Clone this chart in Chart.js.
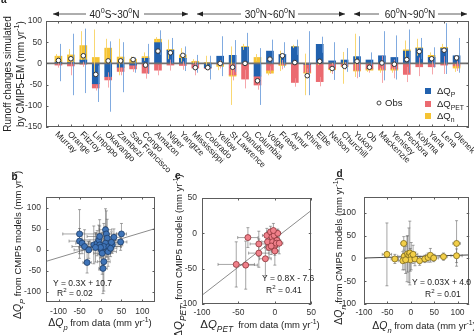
<!DOCTYPE html>
<html>
<head>
<meta charset="utf-8">
<script src="https://cdn.jsdelivr.net/npm/chart.js@4.4.1/dist/chart.umd.min.js"></script>
<style>
  html, body { margin: 0; padding: 0; background: #fff; }
  #fig { position: relative; width: 474px; height: 335px; overflow: hidden; }
  #fig canvas { position: absolute; }
</style>
</head>
<body>
<div id="fig">
  <canvas id="pa" width="474" height="175" style="left:0;top:0"></canvas>
  <canvas id="pb" width="160" height="170" style="left:0;top:165px"></canvas>
  <canvas id="pc" width="160" height="170" style="left:160px;top:165px"></canvas>
  <canvas id="pd" width="154" height="170" style="left:320px;top:165px"></canvas>
</div>
<script>
// ---- panel a: runoff change components per basin (mm/yr) ----
const rivers = ['Murray','Orange','Fitzroy','Limpopo','Okavango','Zambezi','Sao Francisco','Congo','Amazon','Niger','Yangtze',
  'Mississippi','Colorado','Yellow','St Lawrence','Danube','Columbia','Volga','Fraser','Amur','Rhine','Elbe','Nelson','Churchill',
  'Yukon','Ob','Mackenzie','Yenisey','Pechora','Kolyma','Yana','Lena','Olenek'];
const dQp   = [3, 2, 8, -48, -31, -9, -4, 12, 49, 31, 12, -1, -10, 17, 19, 38, -30, 29, 21, 39, -2, 45, 6, 8, 16, 8, 18, 14, 29, 35, 14, 35, 18];
const dQpet = [-4, -6, -2, -10, -8, -10, -9, -23, -16, -4, -5, -10, -2, -2, -27, -37, -21, -16, -3, -45, -19, -43, -12, -6, -16, -13, -14, -13, -26, -8, -8, -4, -6];
const dQn   = [14, 18, 34, 14, 36, 15, 10, 4, 8, 2, 8, 5, 2, -5, -3, 2, 14, -7, -2, 1, -2, 0, -3, -2, -2, -3, -2, -3, 3, 2, 5, 3, -5];
const dQobs = [7, 11, 18, -26, 6, 6, 9, -4, 29, 25, 19, -10, -10, 0, -9, 0, -41, 10, 18, 2, -29, 5, -12, -7, 5, -9, 1, -2, 9, 28, 11, 31, 13];
// spread of the model ensemble for each component (lower / upper ends)
const pLo   = [-42, -75, -70, -91, -114, -68, -22, -25, 20, 0, -18, -22, -38, -30, -20, 5, -98, 0, -10, 20, -75, 25, -39, -20, -32, -12, -40, -38, -22, 10, -10, -25, -22];
const pHi   = [46, 70, 82, -5, 52, 50, 14, 46, 78, 60, 40, 20, 18, 64, 55, 72, 36, 56, 50, 56, 76, 63, 50, 36, 64, 26, 76, 66, 80, 60, 38, 95, 60];
const petLo = [-10, -28, -8, -64, -57, -28, -20, -36, -28, -17, -15, -28, -16, -12, -40, -59, -62, -25, -14, -55, -30, -54, -25, -15, -35, -22, -46, -35, -44, -30, -26, -25, -18];
const petHi = [2, 16, 4, -52, -21, -10, -6, -10, -4, 9, 5, 6, -8, 8, -14, -15, -40, -7, 8, -35, -12, -32, 1, 3, 3, -4, 18, 9, -8, 14, 10, 17, 6];
const nLo   = [8, 4, 8, -20, 12, -28, 4, 6, 52, 10, 4, 0, -14, -16, -98, 32, 6, -28, -18, 36, -75, -4, -22, -48, -32, -20, -22, -22, 12, 18, 12, 30, -20];
const nHi   = [22, 34, 76, 80, 58, 58, 16, 26, 62, 56, 36, 10, 18, 2, 40, 46, 22, -18, 30, 44, 23, 4, -8, 27, 70, -12, -10, -10, 54, 58, 26, 46, -2];
const yTicksA = [-150, -100, -50, 0, 50, 100];

// ---- panels b-d: modelled vs. observed changes ----
const bObsX = [-50, -50, -44, -38, -28, -32, -16, -8, -4, -2, 2, 4, 6, 8, 12, 14, 16, 12, 8, 20, 18, 28, 32, 26, 50, 48, -2, 24, 0, -12];
const bSimY = [37, 20, 15, 7, -1, -31, 11, 15, 23, 11, -1, -9, -45, -29, 47, 37, 27, 15, 7, 7, -5, 11, 29, 17, 37, 18, 31, 3, 5, 5];
const bErrX = [40, 25, 15, 30, 35, 10, 25, 20, 40, 15, 30, 20, 10, 15, 15, 25, 20, 35, 40, 30, 20, 25, 15, 20, 12, 15, 30, 15, 10, 40];
const bErrY = [58, 30, 25, 40, 20, 25, 45, 30, 35, 60, 40, 50, 60, 70, 50, 55, 45, 40, 55, 30, 35, 20, 20, 25, 25, 20, 25, 20, 25, 35];
const bFit  = [0.3, 10.7];

const cObsX = [-53, -40, -37, -22, -22, -13, -11, -10, -8, -6, -4, -3, -1, 0, 0, 3, 4, -2, -5, 2, 6];
const cSimY = [-44, -45, -6, -15, -28, -36, -3, -12, -20, 2, -5, -12, -3, -17, -25, -10, 0, 4, -18, -14, -14];
const cErrX = [25, 16, 14, 12, 14, 8, 6, 8, 6, 5, 6, 5, 4, 6, 5, 5, 4, 6, 5, 6, 5];
const cErrY = [32, 34, 14, 18, 20, 24, 10, 12, 14, 8, 10, 10, 8, 14, 20, 10, 6, 10, 12, 12, 15];
const cFit  = [0.8, -7.6];

const dObsX = [-51, -34, -15, -14, -17, -8, -7, -4, -2, 1, -1, 9, 19, 30, 37, 42, 49, 70, 98, 98, 5, -11];
const dSimY = [9, -1, 33, 5, -5, -1, 10, 7, 12, 5, -3, -1, -5, -1, 2, 7, 1, 4, 33, 6, 9, -3];
const dErrX = [10, 8, 6, 14, 10, 10, 8, 10, 8, 10, 15, 12, 10, 12, 8, 10, 10, 8, 8, 12, 10, 10];
const dErrY = [69, 10, 15, 30, 20, 50, 40, 60, 70, 30, 25, 15, 10, 8, 10, 15, 8, 8, 50, 15, 20, 30];
const dFit  = [0.03, 4.0];

const ticksB = [-100, -50, 0, 50, 100];
const ticksC = [-100, -50, 0, 50];
const ticksD = [-100, -50, 0, 50, 100];

const FONT = '"Liberation Sans", Arial, Helvetica, sans-serif';
const C_BLUE = '#2161ae', C_RED = '#eb6a70', C_YEL = '#f5c333';
const E_BLUE = 'rgba(98,150,216,0.8)', E_RED = 'rgba(243,150,156,0.85)', E_YEL = 'rgba(248,212,100,0.9)';

// text with italic / subscript / superscript runs: [text, flags, size]
function drawRich(ctx, parts, x, y, o = {}) {
  const size = o.size || 10;
  ctx.save();
  ctx.translate(x, y);
  if (o.rot) ctx.rotate(o.rot);
  ctx.fillStyle = o.color || '#222';
  ctx.textAlign = 'left';
  ctx.textBaseline = 'alphabetic';
  const runs = parts.map(p => {
    const t = p[0], k = p[1] || '', base = p[2] || size;
    const small = k.includes('b') || k.includes('p');
    const sz = small ? base * 0.72 : base;
    const font = (k.includes('i') ? 'italic ' : '') + (o.bold ? 'bold ' : '') + sz + 'px ' + FONT;
    ctx.font = font;
    const dy = k.includes('b') ? base * 0.3 : k.includes('p') ? -base * 0.42 : 0;
    return { t, font, dy, w: ctx.measureText(t).width };
  });
  const total = runs.reduce((s, r) => s + r.w, 0);
  let cx = o.align === 'center' ? -total / 2 : o.align === 'right' ? -total : 0;
  const by = size * 0.36;
  runs.forEach(r => { ctx.font = r.font; ctx.fillText(r.t, cx, by + r.dy); cx += r.w; });
  ctx.restore();
}

// axes box with inward tick marks on all four sides
function framePlugin(xt, yt, len) {
  return {
    id: 'frame',
    afterDatasetsDraw(chart) {
      const { ctx, chartArea: a, scales: { x, y } } = chart;
      ctx.save();
      ctx.strokeStyle = '#5c5c5c';
      ctx.lineWidth = 1;
      ctx.beginPath();
      xt.forEach(v => {
        const p = Math.round(x.getPixelForValue(v)) + 0.5;
        ctx.moveTo(p, a.bottom); ctx.lineTo(p, a.bottom - len);
        ctx.moveTo(p, a.top); ctx.lineTo(p, a.top + len);
      });
      yt.forEach(v => {
        const p = Math.round(y.getPixelForValue(v)) + 0.5;
        ctx.moveTo(a.left, p); ctx.lineTo(a.left + len, p);
        ctx.moveTo(a.right, p); ctx.lineTo(a.right - len, p);
      });
      ctx.stroke();
      ctx.strokeRect(Math.round(a.left) + 0.5, Math.round(a.top) + 0.5,
                     Math.round(a.right - a.left) - 1, Math.round(a.bottom - a.top) - 1);
      ctx.restore();
    }
  };
}

function arrow(ctx, x1, x2, y, dir) {
  ctx.beginPath(); ctx.moveTo(x1, y); ctx.lineTo(x2, y); ctx.stroke();
  const hx = dir < 0 ? x1 : x2;
  ctx.beginPath();
  ctx.moveTo(hx, y);
  ctx.lineTo(hx - dir * 6, y - 2.6);
  ctx.lineTo(hx - dir * 6, y + 2.6);
  ctx.closePath();
  ctx.fill();
}

const idx = arr => arr.map((v, i) => ({ x: i, y: v }));
const tickFont = { size: 8.5, family: FONT };
const riverIdx = rivers.map((_, i) => i);

// ---------------- panel a ----------------
new Chart(document.getElementById('pa'), {
  type: 'bar',
  data: {
    datasets: [
      { label: 'ΔQP', data: idx(dQp), backgroundColor: C_BLUE, stack: 'runoff', order: 1, barThickness: 7 },
      { label: 'ΔQPET', data: idx(dQpet), backgroundColor: C_RED, stack: 'runoff', order: 1, barThickness: 7 },
      { label: 'ΔQn', data: idx(dQn), backgroundColor: C_YEL, stack: 'runoff', order: 1, barThickness: 7 },
      { type: 'scatter', label: 'Obs', data: idx(dQobs), stack: 'obs', order: 0,
        pointRadius: 2.3, pointBackgroundColor: '#fff', pointBorderColor: '#333', pointBorderWidth: 1 }
    ]
  },
  options: {
    responsive: false, animation: false, events: [],
    layout: { padding: { top: 21, right: 2, left: 0, bottom: 0 } },
    plugins: { legend: { display: false }, tooltip: { enabled: false } },
    scales: {
      x: { type: 'linear', offset: false, stacked: true, min: -1, max: rivers.length,
           grid: { display: false }, border: { display: false }, ticks: { display: false },
           afterFit(s) { s.height = 48; } },
      y: { stacked: true, min: -150, max: 100,
           afterBuildTicks(s) { s.ticks = yTicksA.map(v => ({ value: v })); },
           grid: { display: false, drawTicks: false }, border: { display: false },
           ticks: { font: tickFont, color: '#333', padding: 4, callback: v => String(v) },
           afterFit(s) { s.width = 46; } }
    }
  },
  plugins: [
    {
      id: 'spread',
      beforeDatasetDraw(chart, args) {
        if (args.index !== 3) return;
        const { ctx, chartArea: a, scales: { x, y } } = chart;
        ctx.save();
        const y0 = y.getPixelForValue(0);
        ctx.strokeStyle = '#707070'; ctx.lineWidth = 1.6;
        ctx.beginPath(); ctx.moveTo(a.left, y0); ctx.lineTo(a.right, y0); ctx.stroke();
        const sets = [[nLo, nHi, E_YEL, -2], [petLo, petHi, E_RED, 0], [pLo, pHi, E_BLUE, 2]];
        ctx.lineWidth = 1;
        sets.forEach(([lo, hi, col, off]) => {
          ctx.strokeStyle = col;
          ctx.beginPath();
          riverIdx.forEach(i => {
            const px = Math.round(x.getPixelForValue(i) + off) + 0.5;
            ctx.moveTo(px, y.getPixelForValue(lo[i]));
            ctx.lineTo(px, y.getPixelForValue(hi[i]));
          });
          ctx.stroke();
        });
        ctx.restore();
      }
    },
    framePlugin(riverIdx, yTicksA, 2.5),
    {
      id: 'decorA',
      afterDraw(chart) {
        const { ctx, chartArea: a, scales: { x } } = chart;
        ctx.save();
        // basin names
        ctx.font = '8.5px ' + FONT;
        ctx.fillStyle = '#222';
        ctx.textAlign = 'left';
        ctx.textBaseline = 'middle';
        rivers.forEach((r, i) => {
          ctx.save();
          ctx.translate(x.getPixelForValue(i) - 2, a.bottom + 6);
          ctx.rotate(Math.PI / 4);
          ctx.fillText(r, 0, 0);
          ctx.restore();
        });
        // latitude bands
        ctx.strokeStyle = '#333'; ctx.fillStyle = '#222'; ctx.lineWidth = 0.8;
        arrow(ctx, 53, 86, 14, -1); arrow(ctx, 144, 188, 14, 1);
        arrow(ctx, 197, 241, 14, -1); arrow(ctx, 298, 345, 14, 1);
        arrow(ctx, 354, 379, 14, -1); arrow(ctx, 438, 467, 14, 1);
        drawRich(ctx, [['40'], ['0', 'p'], ['S~30'], ['0', 'p'], ['N']], 114.5, 14, { align: 'center' });
        drawRich(ctx, [['30'], ['0', 'p'], ['N~60'], ['0', 'p'], ['N']], 270, 14, { align: 'center' });
        drawRich(ctx, [['60'], ['0', 'p'], ['N~90'], ['0', 'p'], ['N']], 410, 14, { align: 'center' });
        // y title
        drawRich(ctx, [['Runoff changes simulated']], 7, 74, { rot: -Math.PI / 2, align: 'center' });
        drawRich(ctx, [['by CMIP5-EM (mm yr'], ['-1', 'p'], [')']], 20, 74, { rot: -Math.PI / 2, align: 'center' });
        // panel letter
        drawRich(ctx, [['a']], 1, -1, { bold: true, size: 10 });
        // legend
        const lg = [[C_BLUE, [['ΔQ'], ['P', 'b']], 91], [C_RED, [['ΔQ'], ['PET', 'b']], 104], [C_YEL, [['ΔQ'], ['n', 'b']], 116]];
        lg.forEach(([col, txt, yy]) => {
          ctx.fillStyle = col;
          ctx.fillRect(425, yy - 3, 6, 6);
          drawRich(ctx, txt, 437, yy, { size: 9.5 });
        });
        ctx.beginPath();
        ctx.arc(379, 103, 2, 0, Math.PI * 2);
        ctx.fillStyle = '#fff'; ctx.fill();
        ctx.strokeStyle = '#333'; ctx.lineWidth = 0.9; ctx.stroke();
        drawRich(ctx, [['Obs']], 385, 103, { size: 9.5 });
        ctx.restore();
      }
    }
  ]
});

// ---------------- panels b-d ----------------
function scatterPanel(id, o) {
  const pts = o.xs.map((v, i) => ({ x: v, y: o.ys[i] }));
  const fitLine = [o.xMin, o.xMax].map(v => ({ x: v, y: o.fit[0] * v + o.fit[1] }));
  new Chart(document.getElementById(id), {
    type: 'scatter',
    data: {
      datasets: [
        { data: pts, order: 0, pointRadius: 3, pointBackgroundColor: o.fill, pointBorderColor: o.edge, pointBorderWidth: 0.8 },
        { type: 'line', data: fitLine, order: 1, borderColor: o.lineColor, borderWidth: 1, pointRadius: 0, fill: false }
      ]
    },
    options: {
      responsive: false, animation: false, events: [],
      layout: { padding: { top: o.top, right: o.right, left: 0, bottom: 0 } },
      plugins: { legend: { display: false }, tooltip: { enabled: false } },
      scales: {
        x: { type: 'linear', offset: false, min: o.xMin, max: o.xMax,
             afterBuildTicks(s) { s.ticks = o.xt.map(v => ({ value: v })); },
             grid: { display: false, drawTicks: false }, border: { display: false },
             ticks: { font: tickFont, color: '#333', padding: o.xPad, maxRotation: 0, callback: v => String(v) },
             afterFit(s) { s.height = o.xH; } },
        y: { type: 'linear', min: o.yMin, max: o.yMax,
             afterBuildTicks(s) { s.ticks = o.yt.map(v => ({ value: v })); },
             grid: { display: false, drawTicks: false }, border: { display: false },
             ticks: { font: tickFont, color: '#333', padding: o.yPad, callback: v => String(v) },
             afterFit(s) { s.width = o.yW; } }
      }
    },
    plugins: [
      {
        id: 'whiskers',
        beforeDatasetDraw(chart, args) {
          if (args.index !== 0) return;
          const { ctx, chartArea: a, scales: { x, y } } = chart;
          ctx.save();
          ctx.beginPath(); ctx.rect(a.left, a.top, a.right - a.left, a.bottom - a.top); ctx.clip();
          ctx.strokeStyle = 'rgba(95,95,95,0.7)';
          ctx.lineWidth = 0.8;
          ctx.beginPath();
          o.xs.forEach((xv, i) => {
            const px = x.getPixelForValue(xv), py = y.getPixelForValue(o.ys[i]);
            const x1 = x.getPixelForValue(xv - o.ex[i]), x2 = x.getPixelForValue(xv + o.ex[i]);
            const y1 = y.getPixelForValue(o.ys[i] - o.ey[i]), y2 = y.getPixelForValue(o.ys[i] + o.ey[i]);
            ctx.moveTo(x1, py); ctx.lineTo(x2, py);
            ctx.moveTo(x1, py - 1.5); ctx.lineTo(x1, py + 1.5);
            ctx.moveTo(x2, py - 1.5); ctx.lineTo(x2, py + 1.5);
            ctx.moveTo(px, y1); ctx.lineTo(px, y2);
            ctx.moveTo(px - 1.5, y1); ctx.lineTo(px + 1.5, y1);
            ctx.moveTo(px - 1.5, y2); ctx.lineTo(px + 1.5, y2);
          });
          ctx.stroke();
          ctx.restore();
        }
      },
      framePlugin(o.xt, o.yt, 2.5),
      {
        id: 'labels',
        afterDraw(chart) {
          const ctx = chart.ctx;
          const ox = o.origin[0], oy = o.origin[1];
          drawRich(ctx, o.yTitle, o.yTitlePos[0] - ox, o.yTitlePos[1] - oy, { rot: -Math.PI / 2, align: 'center', size: 9.5 });
          drawRich(ctx, o.xTitle, o.xTitlePos[0] - ox, o.xTitlePos[1] - oy, { align: 'center', size: 9.5 });
          drawRich(ctx, [[o.letter]], o.letterPos[0] - ox, o.letterPos[1] - oy, { bold: true, size: 10 });
          drawRich(ctx, o.eq1, o.eq1Pos[0] - ox, o.eq1Pos[1] - oy, { size: 8.5 });
          drawRich(ctx, o.eq2, o.eq2Pos[0] - ox, o.eq2Pos[1] - oy, { size: 8.5 });
        }
      }
    ]
  });
}

const yr = [[' (mm yr'], ['-1', 'p'], [')']];

scatterPanel('pb', {
  origin: [0, 165], xs: bObsX, ys: bSimY, ex: bErrX, ey: bErrY, fit: bFit,
  fill: '#3f74b8', edge: '#1c3c68', lineColor: '#8c8c8c',
  xMin: -130, xMax: 130, yMin: -125, yMax: 125, xt: ticksB, yt: ticksB,
  top: 32, right: 5, yW: 46, xH: 33, xPad: 5, yPad: 5,
  letter: 'b', letterPos: [11.5, 176.5],
  yTitle: [['Δ', '', 10.5], ['Q', 'i', 10.5], ['P', 'ib', 10.5], [' from CMIP5 models'], ...yr], yTitlePos: [18, 245],
  xTitle: [['Δ', '', 10.5], ['Q', 'i', 10.5], ['p', 'ib', 10.5], [' from data'], ...yr], xTitlePos: [100, 323],
  eq1: [['Y = ' + bFit[0] + 'X + ' + bFit[1]]], eq1Pos: [53, 283],
  eq2: [['R'], ['2', 'p'], [' = 0.02']], eq2Pos: [57, 292.5]
});

scatterPanel('pc', {
  origin: [160, 165], xs: cObsX, ys: cSimY, ex: cErrX, ey: cErrY, fit: cFit,
  fill: '#f0808a', edge: '#8d3439', lineColor: '#8c8c8c',
  xMin: -100, xMax: 50, yMin: -100, yMax: 50, xt: ticksC, yt: ticksC,
  top: 33, right: 4, yW: 42, xH: 31, xPad: 4, yPad: 5,
  letter: 'c', letterPos: [175, 175],
  yTitle: [['Δ', '', 11.5], ['Q', 'i', 11.5], ['PET', 'ib', 11.5], ['  from CMIP5 models'], ...yr], yTitlePos: [179, 256],
  xTitle: [['Δ', '', 11.5], ['Q', 'i', 11.5], ['PET', 'ib', 11.5], ['  from data'], ...yr], xTitlePos: [260, 325],
  eq1: [['Y = ' + cFit[0] + 'X - ' + Math.abs(cFit[1])]], eq1Pos: [262, 278],
  eq2: [['R'], ['2', 'p'], [' = 0.41']], eq2Pos: [266, 289.5]
});

scatterPanel('pd', {
  origin: [320, 165], xs: dObsX, ys: dSimY, ex: dErrX, ey: dErrY, fit: dFit,
  fill: '#f3cf48', edge: '#7e6a1c', lineColor: '#454545',
  xMin: -100, xMax: 125, yMin: -100, yMax: 135, xt: ticksD, yt: ticksD,
  top: 32, right: 3, yW: 44, xH: 31, xPad: 4, yPad: 8,
  letter: 'd', letterPos: [336.5, 173.5],
  yTitle: [['Δ', '', 10.5], ['Q', 'i', 10.5], ['n', 'ib', 10.5], [' from CMIP5 models'], ...yr], yTitlePos: [339, 251],
  xTitle: [['Δ', '', 10.5], ['Q', 'i', 10.5], ['n', 'ib', 10.5], [' from data'], ...yr], xTitlePos: [424, 326],
  eq1: [['Y = ' + dFit[0] + 'X + ' + dFit[1].toFixed(1)]], eq1Pos: [412, 282],
  eq2: [['R'], ['2', 'p'], [' = 0.01']], eq2Pos: [425, 294]
});
</script>
</body>
</html>
